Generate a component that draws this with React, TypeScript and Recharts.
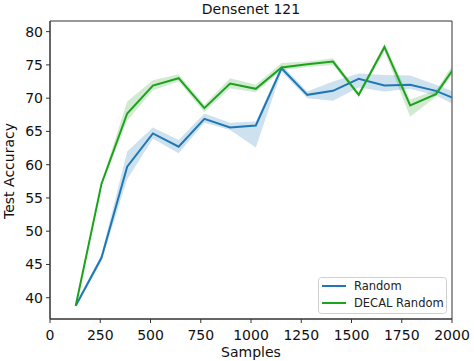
import React from "react";
import {
  ComposedChart,
  Line,
  Area,
  XAxis,
  YAxis,
  ReferenceArea,
  Customized,
} from "recharts";

const samples = [128, 256, 384, 512, 640, 768, 896, 1024, 1152, 1280, 1408, 1536, 1664, 1792, 1920, 2048];

const randomMean = [38.8, 46.0, 59.7, 64.7, 62.7, 66.9, 65.6, 65.9, 74.5, 70.5, 71.1, 72.9, 71.9, 72.0, 71.1, 69.5];
const randomLow = [38.6, 45.5, 57.8, 63.9, 61.7, 66.3, 65.2, 62.6, 74.0, 70.0, 69.6, 71.6, 71.0, 71.4, 70.4, 68.5];
const randomHigh = [39.0, 46.5, 62.0, 65.6, 63.7, 67.7, 66.3, 66.5, 75.0, 71.0, 72.5, 73.7, 73.5, 73.4, 72.0, 70.5];

const decalMean = [38.8, 57.1, 67.7, 71.9, 73.0, 68.5, 72.2, 71.4, 74.6, 75.1, 75.5, 70.5, 77.7, 68.9, 70.6, 76.2];
const decalLow = [38.6, 56.8, 66.6, 71.2, 72.5, 67.9, 71.5, 70.9, 74.2, 74.7, 75.0, 70.2, 77.0, 67.2, 70.2, 75.5];
const decalHigh = [39.0, 57.4, 69.5, 72.7, 73.6, 69.0, 73.0, 72.0, 75.3, 75.5, 76.0, 70.8, 78.2, 69.8, 71.2, 77.0];

const xTicks = [0, 250, 500, 750, 1000, 1250, 1500, 1750, 2000];
const yTicks = [40, 45, 50, 55, 60, 65, 70, 75, 80];

const seriesNames = ["Random", "DECAL Random"];
const title = "Densenet 121";
const xLabel = "Samples";
const yLabel = "Test Accuracy";

const BLUE = "#1f77b4";
const GREEN = "#1ca31c";
const FONT = "DejaVu Sans";

const data = samples.map((s, i) => ({
  x: s,
  random: randomMean[i],
  randomBand: [randomLow[i], randomHigh[i]],
  decal: decalMean[i],
  decalBand: [decalLow[i], decalHigh[i]],
}));

const Y_MIN = 36.8;
const Y_MAX = 81.6;

const Decorations = () => (
  <g fontFamily={FONT}>
    <text x={251} y={14} textAnchor="middle" fontSize={14} fill="#111">
      {title}
    </text>
    <text x={251} y={357} textAnchor="middle" fontSize={14} fill="#111">
      {xLabel}
    </text>
    <text x={14} y={171} transform="rotate(-90, 14, 171)" textAnchor="middle" fontSize={14} fill="#111">
      {yLabel}
    </text>
    <g>
      <rect x={318.5} y={277.5} width={128} height={36} rx={3} fill="#fff" fillOpacity={0.8} stroke="#d0d0d0" />
      {[BLUE, GREEN].map((c, i) => (
        <g key={i}>
          <line x1={322} x2={346} y1={286 + i * 17} y2={286 + i * 17} stroke={c} strokeWidth={2} />
          <text x={354} y={290 + i * 17} fontSize={11.5} fill="#222">
            {seriesNames[i]}
          </text>
        </g>
      ))}
    </g>
  </g>
);

export default function App() {
  return (
    <div style={{ position: "absolute", left: 0, top: 0 }}>
      <ComposedChart
        width={474}
        height={361}
        data={data}
        margin={{ top: 21, right: 22, bottom: 0, left: 0 }}
        style={{ fontFamily: FONT }}
      >
        <XAxis
          dataKey="x"
          type="number"
          domain={[0, 2000]}
          allowDataOverflow
          ticks={xTicks}
          height={42}
          tickSize={4}
          tickMargin={7}
          stroke="#333"
          tick={{ fill: "#111", fontSize: 14, fontFamily: FONT }}
        />
        <YAxis
          type="number"
          domain={[Y_MIN, Y_MAX]}
          allowDataOverflow
          ticks={yTicks}
          width={50}
          tickSize={4}
          tickMargin={3}
          stroke="#333"
          tick={{ fill: "#111", fontSize: 14, fontFamily: FONT }}
        />
        <ReferenceArea x1={0} x2={2000} y1={Y_MIN} y2={Y_MAX} fill="none" stroke="#333" strokeWidth={1} ifOverflow="visible" />
        <Area dataKey="randomBand" stroke="none" fill={BLUE} fillOpacity={0.22} isAnimationActive={false} type="linear" />
        <Area dataKey="decalBand" stroke="none" fill="#2ca02c" fillOpacity={0.22} isAnimationActive={false} type="linear" />
        <Line dataKey="random" stroke={BLUE} strokeWidth={2} dot={false} isAnimationActive={false} type="linear" />
        <Line dataKey="decal" stroke={GREEN} strokeWidth={2} dot={false} isAnimationActive={false} type="linear" />
        <Customized component={<Decorations />} />
      </ComposedChart>
    </div>
  );
}
